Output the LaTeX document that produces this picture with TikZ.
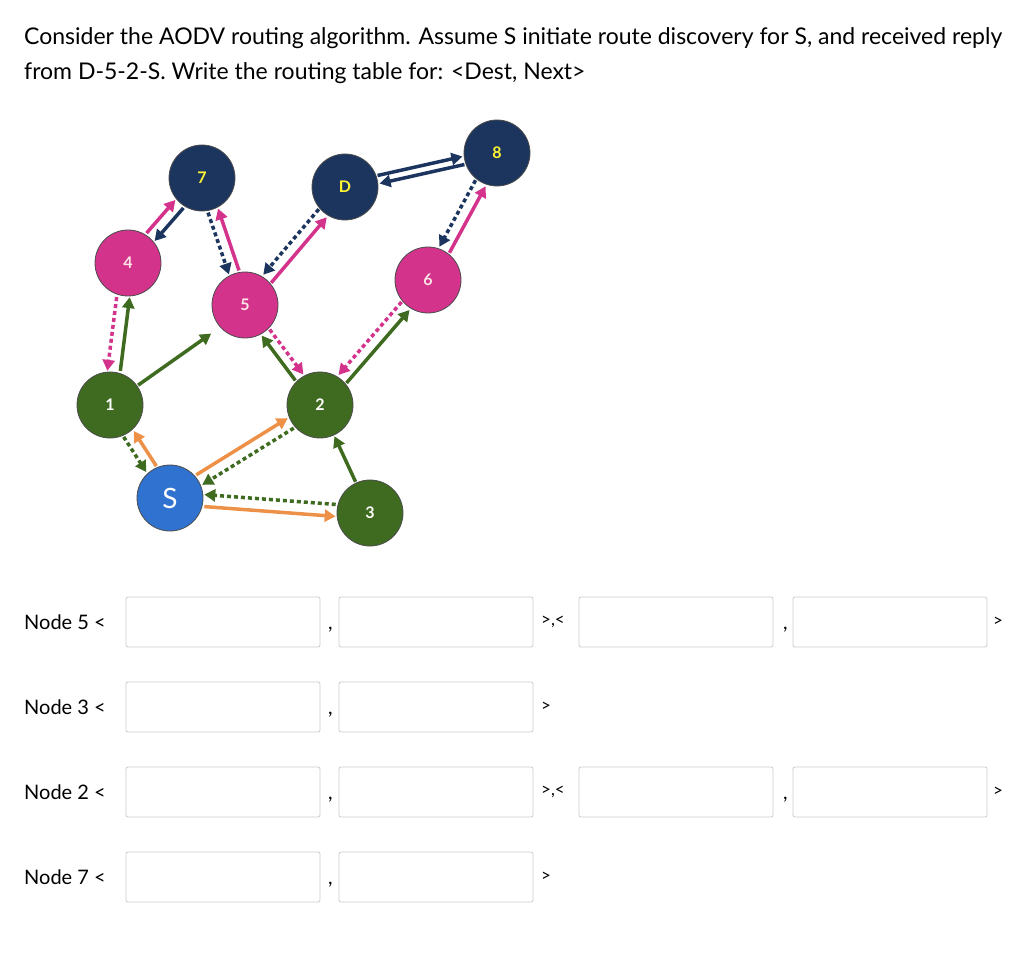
\documentclass[tikz,border=0pt]{standalone}
\usepackage{fontspec}
\setmainfont{Lato}
\setsansfont{Lato}
\usetikzlibrary{arrows.meta}
\definecolor{navy}{HTML}{1B355F}
\definecolor{mag}{HTML}{D4338C}
\definecolor{grn}{HTML}{3E6B1F}
\definecolor{org}{HTML}{EE9148}
\definecolor{blu}{HTML}{2F72CF}
\definecolor{bx}{HTML}{C7CDD1}
\begin{document}
\begin{tikzpicture}[x=1pt,y=-1pt,
 nd/.style={circle,draw=black!70,line width=0.8pt,minimum size=66pt,inner sep=0pt,font=\bfseries\fontsize{16}{16}\selectfont},
 nv/.style={nd,fill=navy,text=yellow!80!white},
 mg/.style={nd,fill=mag,text=pink!40!white},
 gn/.style={nd,fill=grn,text=white},
 e/.style={line width=3.5pt,-{Triangle[length=11pt,width=12pt]},shorten >=1pt,shorten <=1pt},
 dt/.style={e,dash pattern=on 4pt off 3pt},
 box/.style={draw=bx,rounded corners=2pt,line width=0.8pt,minimum width=194pt,minimum height=50pt},
 t/.style={font=\fontsize{20}{24}\selectfont,anchor=west,inner sep=0pt},
 tq/.style={font=\fontsize{23}{27}\selectfont,anchor=west,inner sep=0pt}]
\useasboundingbox (0,0) rectangle (1024,965);
\node[tq] (q1) at (24,38) {Consider the AODV routing algorithm. Assume S initiate route discovery for S, and received reply};
\node[tq] (q2) at (24,73) {from D-5-2-S. Write the routing table for: <Dest, Next>};
\node[nv] (7) at (202,178) {7};
\node[nv] (D) at (345,187) {D};
\node[nv] (8) at (497,153) {8};
\node[mg] (4) at (128,263) {4};
\node[mg] (5) at (245,305) {5};
\node[mg] (6) at (428,280) {6};
\node[gn] (1) at (110,405) {1};
\node[gn] (2) at (320,405) {2};
\node[gn] (3) at (370,513) {3};
\node[nd,fill=blu,text=white,font=\fontsize{28}{28}\selectfont] (S) at (170,498) {S};
\coordinate (p15) at (212,333);
\draw[e,navy,transform canvas={shift={(4,4)}}] (7) -- (4);
\draw[e,mag,transform canvas={shift={(-4,-4)}}] (4) -- (7);
\draw[dt,navy,transform canvas={shift={(-5,2)}}] (7) -- (5);
\draw[e,mag,transform canvas={shift={(5,-2)}}] (5) -- (7);
\draw[dt,navy,transform canvas={shift={(-4,-4)}}] (D) -- (5);
\draw[e,mag,transform canvas={shift={(4,4)}}] (5) -- (D);
\draw[e,navy,transform canvas={shift={(-1,-4)}}] (D) -- (8);
\draw[e,navy,transform canvas={shift={(1,4)}}] (8) -- (D);
\draw[dt,navy,transform canvas={shift={(-5,-3)}}] (8) -- (6);
\draw[e,mag,transform canvas={shift={(5,3)}}] (6) -- (8);
\draw[dt,mag,transform canvas={shift={(-7,0)}}] (4) -- (1);
\draw[e,grn,transform canvas={shift={(6,0)}}] (1) -- (4);
\draw[e,grn] (1) -- (p15);
\draw[e,grn,transform canvas={shift={(-4,3)}}] (2) -- (5);
\draw[dt,mag,transform canvas={shift={(4,-3)}}] (5) -- (2);
\draw[dt,mag,transform canvas={shift={(-4,-4)}}] (6) -- (2);
\draw[e,grn,transform canvas={shift={(4,4)}}] (2) -- (6);
\draw[e,org,transform canvas={shift={(5,-3)}}] (S) -- (1);
\draw[dt,grn,transform canvas={shift={(-5,3)}}] (1) -- (S);
\draw[e,org,transform canvas={shift={(-3,-5)}}] (S) -- (2);
\draw[dt,grn,transform canvas={shift={(3,5)}}] (2) -- (S);
\draw[e,org,transform canvas={shift={(0,6)}}] (S) -- (3);
\draw[dt,grn,transform canvas={shift={(0,-6)}}] (3) -- (S);
\draw[e,grn] (3) -- (2);
% form
\foreach \r/\y/\full in {5/622/1,3/707/0,2/792/1,7/877/0}{
 \node[t] (l\r) at (24,\y) {Node \r\ <};
 \node[box] (a\r) at (223,\y) {};
 \node[box] (b\r) at (436,\y) {};
 \node[t] (c\r) at (328,\y+8) {,};
 \ifnum\full=1
  \node[t,font=\fontsize{17}{20}\selectfont] (g\r) at (541,\y) {>,<};
  \node[box] (d\r) at (676,\y) {};
  \node[box] (f\r) at (890,\y) {};
  \node[t] (h\r) at (783,\y+8) {,};
  \node[t,font=\fontsize{17}{20}\selectfont] (k\r) at (993,\y) {>};
 \else
  \node[t,font=\fontsize{17}{20}\selectfont] (g\r) at (541,\y) {>};
 \fi
}
\end{tikzpicture}
\end{document}
